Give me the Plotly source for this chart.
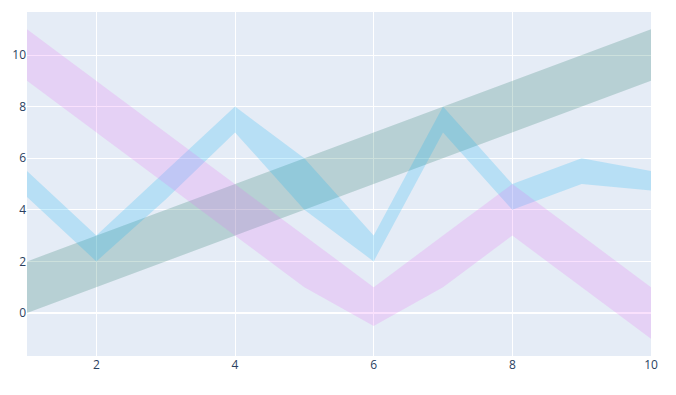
import plotly.graph_objects as go

x = [1, 2, 3, 4, 5, 6, 7, 8, 9, 10]
x_rev = x[::-1]

y1_upper = [2, 3, 4, 5, 6, 7, 8, 9, 10, 11]
y1_lower = [0, 1, 2, 3, 4, 5, 6, 7, 8, 9]

y2_upper = [5.5, 3, 5.5, 8, 6, 3, 8, 5, 6, 5.5]
y2_lower = [4.5, 2, 4.4, 7, 4, 2, 7, 4, 5, 4.75]

y3_upper = [11, 9, 7, 5, 3, 1, 3, 5, 3, 1]
y3_lower = [9, 7, 5, 3, 1, -0.5, 1, 3, 1, -1]

fig = go.Figure()
bands = [
    (y1_upper, y1_lower, 'rgba(0,100,80,0.2)', 'Fair'),
    (y2_upper, y2_lower, 'rgba(0,176,246,0.2)', 'Premium'),
    (y3_upper, y3_lower, 'rgba(231,107,243,0.2)', 'Ideal'),
]
for up, lo, col, name in bands:
    fig.add_trace(go.Scatter(
        x=x + x_rev,
        y=up + lo[::-1],
        fill='toself',
        fillcolor=col,
        line_color='rgba(255,255,255,0)',
        showlegend=False,
        name=name,
    ))

fig.update_layout(
    width=660, height=379,
    margin=dict(l=16, r=17, t=4, b=31),
    template='plotly',
)
fig.write_html("out.html")
